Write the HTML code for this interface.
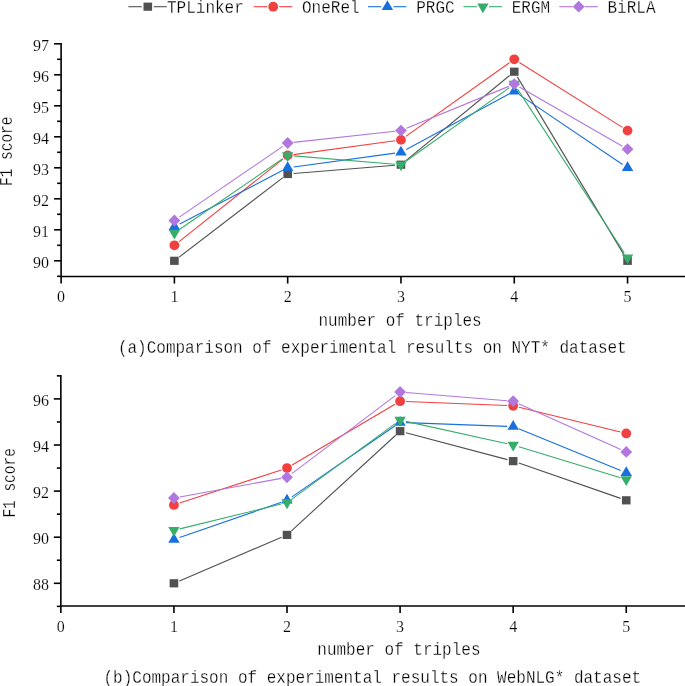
<!DOCTYPE html>
<html lang="en"><head><meta charset="utf-8"><title>F1 score vs number of triples</title>
<style>
html,body{margin:0;padding:0;background:#fff;}
svg{display:block;}
text{fill:#000;}
text.m{stroke:#fff;stroke-width:0.28px;}
text.d{stroke:#fff;stroke-width:0.16px;}
</style></head><body>
<svg width="685" height="686" viewBox="0 0 685 686">
<rect width="685" height="686" fill="#fff"/>
<line x1="128.4" y1="6.7" x2="141.8" y2="6.7" stroke="#515151" stroke-width="1.1"/>
<line x1="153.8" y1="6.7" x2="166.8" y2="6.7" stroke="#515151" stroke-width="1.1"/>
<rect x="143.5" y="2.6" width="8.6" height="8.2" fill="#515151"/>
<text x="167" y="13.2" font-family="'Liberation Mono', monospace" font-size="17.66" textLength="76.8" lengthAdjust="spacingAndGlyphs" class="m">TPLinker</text>
<line x1="253.8" y1="6.7" x2="267.2" y2="6.7" stroke="#F14040" stroke-width="1.1"/>
<line x1="279.2" y1="6.7" x2="292.2" y2="6.7" stroke="#F14040" stroke-width="1.1"/>
<circle cx="273.2" cy="6.7" r="4.9" fill="#F14040"/>
<text x="302" y="13.2" font-family="'Liberation Mono', monospace" font-size="17.66" textLength="57.6" lengthAdjust="spacingAndGlyphs" class="m">OneRel</text>
<line x1="368" y1="6.7" x2="381.4" y2="6.7" stroke="#1A6FDF" stroke-width="1.1"/>
<line x1="393.4" y1="6.7" x2="406.4" y2="6.7" stroke="#1A6FDF" stroke-width="1.1"/>
<polygon points="387.4,0.17 393.1,9.97 381.7,9.97" fill="#1A6FDF"/>
<text x="416.2" y="13.2" font-family="'Liberation Mono', monospace" font-size="17.66" textLength="38.4" lengthAdjust="spacingAndGlyphs" class="m">PRGC</text>
<line x1="463.5" y1="6.7" x2="476.9" y2="6.7" stroke="#37AD6B" stroke-width="1.1"/>
<line x1="488.9" y1="6.7" x2="501.9" y2="6.7" stroke="#37AD6B" stroke-width="1.1"/>
<polygon points="482.9,13.23 488.6,3.43 477.2,3.43" fill="#37AD6B"/>
<text x="511.7" y="13.2" font-family="'Liberation Mono', monospace" font-size="17.66" textLength="38.4" lengthAdjust="spacingAndGlyphs" class="m">ERGM</text>
<line x1="559.3" y1="6.7" x2="572.7" y2="6.7" stroke="#B177DE" stroke-width="1.1"/>
<line x1="584.7" y1="6.7" x2="597.7" y2="6.7" stroke="#B177DE" stroke-width="1.1"/>
<polygon points="578.7,0.8 584.6,6.7 578.7,12.6 572.8,6.7" fill="#B177DE"/>
<text x="607.5" y="13.2" font-family="'Liberation Mono', monospace" font-size="17.66" textLength="48" lengthAdjust="spacingAndGlyphs" class="m">BiRLA</text>
<line x1="179.15" y1="257.15" x2="282.92" y2="177.65" stroke="#515151" stroke-width="1.1"/>
<line x1="293.66" y1="173.51" x2="394.99" y2="165.19" stroke="#515151" stroke-width="1.1"/>
<line x1="405.61" y1="160.89" x2="509.62" y2="75.51" stroke="#515151" stroke-width="1.1"/>
<line x1="517.34" y1="76.85" x2="624.47" y2="255.65" stroke="#515151" stroke-width="1.1"/>
<rect x="170.09" y="256.7" width="8.6" height="8.2" fill="#515151"/>
<rect x="283.38" y="169.9" width="8.6" height="8.2" fill="#515151"/>
<rect x="396.67" y="160.6" width="8.6" height="8.2" fill="#515151"/>
<rect x="509.96" y="67.6" width="8.6" height="8.2" fill="#515151"/>
<rect x="623.25" y="256.7" width="8.6" height="8.2" fill="#515151"/>
<line x1="179.09" y1="241.57" x2="282.98" y2="159.13" stroke="#F14040" stroke-width="1.1"/>
<line x1="293.62" y1="154.59" x2="395.03" y2="140.71" stroke="#F14040" stroke-width="1.1"/>
<line x1="405.86" y1="136.42" x2="509.37" y2="62.78" stroke="#F14040" stroke-width="1.1"/>
<line x1="519.34" y1="62.5" x2="622.47" y2="127.4" stroke="#F14040" stroke-width="1.1"/>
<circle cx="174.39" cy="245.3" r="4.9" fill="#F14040"/>
<circle cx="287.68" cy="155.4" r="4.9" fill="#F14040"/>
<circle cx="400.97" cy="139.9" r="4.9" fill="#F14040"/>
<circle cx="514.26" cy="59.3" r="4.9" fill="#F14040"/>
<circle cx="627.55" cy="130.6" r="4.9" fill="#F14040"/>
<line x1="179.71" y1="223.93" x2="282.36" y2="170.57" stroke="#1A6FDF" stroke-width="1.1"/>
<line x1="293.62" y1="166.99" x2="395.03" y2="153.11" stroke="#1A6FDF" stroke-width="1.1"/>
<line x1="406.25" y1="149.45" x2="508.98" y2="94.08" stroke="#1A6FDF" stroke-width="1.1"/>
<line x1="519.23" y1="94.59" x2="622.58" y2="164.44" stroke="#1A6FDF" stroke-width="1.1"/>
<polygon points="174.39,220.17 180.09,229.97 168.69,229.97" fill="#1A6FDF"/>
<polygon points="287.68,161.27 293.38,171.07 281.98,171.07" fill="#1A6FDF"/>
<polygon points="400.97,145.77 406.67,155.57 395.27,155.57" fill="#1A6FDF"/>
<polygon points="514.26,84.7 519.96,94.5 508.56,94.5" fill="#1A6FDF"/>
<polygon points="627.55,161.27 633.25,171.07 621.85,171.07" fill="#1A6FDF"/>
<line x1="179.34" y1="229.51" x2="282.73" y2="158.79" stroke="#37AD6B" stroke-width="1.1"/>
<line x1="293.66" y1="155.89" x2="394.99" y2="164.21" stroke="#37AD6B" stroke-width="1.1"/>
<line x1="405.86" y1="161.22" x2="509.37" y2="87.58" stroke="#37AD6B" stroke-width="1.1"/>
<line x1="517.54" y1="89.12" x2="624.27" y2="252.68" stroke="#37AD6B" stroke-width="1.1"/>
<polygon points="174.39,239.43 180.09,229.63 168.69,229.63" fill="#37AD6B"/>
<polygon points="287.68,161.93 293.38,152.13 281.98,152.13" fill="#37AD6B"/>
<polygon points="400.97,171.23 406.67,161.43 395.27,161.43" fill="#37AD6B"/>
<polygon points="514.26,90.63 519.96,80.83 508.56,80.83" fill="#37AD6B"/>
<polygon points="627.55,264.23 633.25,254.43 621.85,254.43" fill="#37AD6B"/>
<line x1="179.34" y1="217.11" x2="282.73" y2="146.39" stroke="#B177DE" stroke-width="1.1"/>
<line x1="293.64" y1="142.35" x2="395.01" y2="131.25" stroke="#B177DE" stroke-width="1.1"/>
<line x1="406.52" y1="128.32" x2="508.71" y2="86.38" stroke="#B177DE" stroke-width="1.1"/>
<line x1="519.46" y1="87.09" x2="622.35" y2="146.21" stroke="#B177DE" stroke-width="1.1"/>
<polygon points="174.39,214.6 180.29,220.5 174.39,226.4 168.49,220.5" fill="#B177DE"/>
<polygon points="287.68,137.1 293.58,143 287.68,148.9 281.78,143" fill="#B177DE"/>
<polygon points="400.97,124.7 406.87,130.6 400.97,136.5 395.07,130.6" fill="#B177DE"/>
<polygon points="514.26,78.2 520.16,84.1 514.26,90 508.36,84.1" fill="#B177DE"/>
<polygon points="627.55,143.3 633.45,149.2 627.55,155.1 621.65,149.2" fill="#B177DE"/>
<line x1="61.1" y1="43" x2="61.1" y2="277.35" stroke="#000" stroke-width="1.6"/>
<line x1="61.1" y1="276.55" x2="685" y2="276.55" stroke="#000" stroke-width="1.6"/>
<line x1="54.1" y1="260.8" x2="61.1" y2="260.8" stroke="#000" stroke-width="1.6"/>
<text x="32.9" y="267.7" font-family="'Liberation Serif', serif" font-size="16" class="d">90</text>
<line x1="54.1" y1="229.8" x2="61.1" y2="229.8" stroke="#000" stroke-width="1.6"/>
<text x="32.9" y="236.7" font-family="'Liberation Serif', serif" font-size="16" class="d">91</text>
<line x1="54.1" y1="198.8" x2="61.1" y2="198.8" stroke="#000" stroke-width="1.6"/>
<text x="32.9" y="205.7" font-family="'Liberation Serif', serif" font-size="16" class="d">92</text>
<line x1="54.1" y1="167.8" x2="61.1" y2="167.8" stroke="#000" stroke-width="1.6"/>
<text x="32.9" y="174.7" font-family="'Liberation Serif', serif" font-size="16" class="d">93</text>
<line x1="54.1" y1="136.8" x2="61.1" y2="136.8" stroke="#000" stroke-width="1.6"/>
<text x="32.9" y="143.7" font-family="'Liberation Serif', serif" font-size="16" class="d">94</text>
<line x1="54.1" y1="105.8" x2="61.1" y2="105.8" stroke="#000" stroke-width="1.6"/>
<text x="32.9" y="112.7" font-family="'Liberation Serif', serif" font-size="16" class="d">95</text>
<line x1="54.1" y1="74.8" x2="61.1" y2="74.8" stroke="#000" stroke-width="1.6"/>
<text x="32.9" y="81.7" font-family="'Liberation Serif', serif" font-size="16" class="d">96</text>
<line x1="54.1" y1="43.8" x2="61.1" y2="43.8" stroke="#000" stroke-width="1.6"/>
<text x="32.9" y="50.7" font-family="'Liberation Serif', serif" font-size="16" class="d">97</text>
<line x1="57.1" y1="276.3" x2="61.1" y2="276.3" stroke="#000" stroke-width="1.6"/>
<line x1="57.1" y1="245.3" x2="61.1" y2="245.3" stroke="#000" stroke-width="1.6"/>
<line x1="57.1" y1="214.3" x2="61.1" y2="214.3" stroke="#000" stroke-width="1.6"/>
<line x1="57.1" y1="183.3" x2="61.1" y2="183.3" stroke="#000" stroke-width="1.6"/>
<line x1="57.1" y1="152.3" x2="61.1" y2="152.3" stroke="#000" stroke-width="1.6"/>
<line x1="57.1" y1="121.3" x2="61.1" y2="121.3" stroke="#000" stroke-width="1.6"/>
<line x1="57.1" y1="90.3" x2="61.1" y2="90.3" stroke="#000" stroke-width="1.6"/>
<line x1="57.1" y1="59.3" x2="61.1" y2="59.3" stroke="#000" stroke-width="1.6"/>
<line x1="61.1" y1="276.55" x2="61.1" y2="283.55" stroke="#000" stroke-width="1.6"/>
<text x="57.1" y="302.15" font-family="'Liberation Serif', serif" font-size="16" class="d">0</text>
<line x1="174.39" y1="276.55" x2="174.39" y2="283.55" stroke="#000" stroke-width="1.6"/>
<text x="170.39" y="302.15" font-family="'Liberation Serif', serif" font-size="16" class="d">1</text>
<line x1="287.68" y1="276.55" x2="287.68" y2="283.55" stroke="#000" stroke-width="1.6"/>
<text x="283.68" y="302.15" font-family="'Liberation Serif', serif" font-size="16" class="d">2</text>
<line x1="400.97" y1="276.55" x2="400.97" y2="283.55" stroke="#000" stroke-width="1.6"/>
<text x="396.97" y="302.15" font-family="'Liberation Serif', serif" font-size="16" class="d">3</text>
<line x1="514.26" y1="276.55" x2="514.26" y2="283.55" stroke="#000" stroke-width="1.6"/>
<text x="510.26" y="302.15" font-family="'Liberation Serif', serif" font-size="16" class="d">4</text>
<line x1="627.55" y1="276.55" x2="627.55" y2="283.55" stroke="#000" stroke-width="1.6"/>
<text x="623.55" y="302.15" font-family="'Liberation Serif', serif" font-size="16" class="d">5</text>
<text x="318.5" y="325.65" font-family="'Liberation Mono', monospace" font-size="17.66" textLength="163.2" lengthAdjust="spacingAndGlyphs" class="m">number of triples</text>
<text x="117.9" y="353.4" font-family="'Liberation Mono', monospace" font-size="17.66" textLength="508.8" lengthAdjust="spacingAndGlyphs" class="m">(a)Comparison of experimental results on NYT* dataset</text>
<line x1="179.45" y1="580.94" x2="281.49" y2="537.26" stroke="#515151" stroke-width="1.1"/>
<line x1="291.43" y1="530.84" x2="395.67" y2="435.23" stroke="#515151" stroke-width="1.1"/>
<line x1="405.89" y1="432.71" x2="507.37" y2="459.6" stroke="#515151" stroke-width="1.1"/>
<line x1="518.84" y1="463.1" x2="620.58" y2="498.36" stroke="#515151" stroke-width="1.1"/>
<rect x="169.63" y="579.2" width="8.6" height="8.2" fill="#515151"/>
<rect x="282.71" y="530.8" width="8.6" height="8.2" fill="#515151"/>
<rect x="395.79" y="427.07" width="8.6" height="8.2" fill="#515151"/>
<rect x="508.87" y="457.03" width="8.6" height="8.2" fill="#515151"/>
<rect x="621.95" y="496.22" width="8.6" height="8.2" fill="#515151"/>
<line x1="179.63" y1="503.07" x2="281.31" y2="469.91" stroke="#F14040" stroke-width="1.1"/>
<line x1="292.18" y1="465" x2="394.92" y2="404.26" stroke="#F14040" stroke-width="1.1"/>
<line x1="406.09" y1="401.45" x2="507.17" y2="405.57" stroke="#F14040" stroke-width="1.1"/>
<line x1="519" y1="407.24" x2="620.42" y2="432.05" stroke="#F14040" stroke-width="1.1"/>
<circle cx="173.93" cy="504.93" r="4.9" fill="#F14040"/>
<circle cx="287.01" cy="468.05" r="4.9" fill="#F14040"/>
<circle cx="400.09" cy="401.2" r="4.9" fill="#F14040"/>
<circle cx="513.17" cy="405.81" r="4.9" fill="#F14040"/>
<circle cx="626.25" cy="433.47" r="4.9" fill="#F14040"/>
<line x1="179.6" y1="537.54" x2="281.34" y2="502.28" stroke="#1A6FDF" stroke-width="1.1"/>
<line x1="291.95" y1="496.92" x2="395.15" y2="425.82" stroke="#1A6FDF" stroke-width="1.1"/>
<line x1="406.09" y1="422.63" x2="507.17" y2="426.34" stroke="#1A6FDF" stroke-width="1.1"/>
<line x1="518.73" y1="428.83" x2="620.69" y2="470.39" stroke="#1A6FDF" stroke-width="1.1"/>
<polygon points="173.93,532.97 179.63,542.77 168.23,542.77" fill="#1A6FDF"/>
<polygon points="287.01,493.79 292.71,503.59 281.31,503.59" fill="#1A6FDF"/>
<polygon points="400.09,415.88 405.79,425.68 394.39,425.68" fill="#1A6FDF"/>
<polygon points="513.17,420.03 518.87,429.83 507.47,429.83" fill="#1A6FDF"/>
<polygon points="626.25,466.13 631.95,475.93 620.55,475.93" fill="#1A6FDF"/>
<line x1="179.76" y1="528.86" x2="281.18" y2="504.05" stroke="#37AD6B" stroke-width="1.1"/>
<line x1="291.86" y1="499.09" x2="395.24" y2="423.64" stroke="#37AD6B" stroke-width="1.1"/>
<line x1="405.95" y1="421.4" x2="507.31" y2="443.71" stroke="#37AD6B" stroke-width="1.1"/>
<line x1="518.91" y1="446.75" x2="620.51" y2="477.82" stroke="#37AD6B" stroke-width="1.1"/>
<polygon points="173.93,536.82 179.63,527.02 168.23,527.02" fill="#37AD6B"/>
<polygon points="287.01,509.16 292.71,499.36 281.31,499.36" fill="#37AD6B"/>
<polygon points="400.09,426.64 405.79,416.84 394.39,416.84" fill="#37AD6B"/>
<polygon points="513.17,451.53 518.87,441.73 507.47,441.73" fill="#37AD6B"/>
<polygon points="626.25,486.11 631.95,476.31 620.55,476.31" fill="#37AD6B"/>
<line x1="179.83" y1="496.93" x2="281.11" y2="478.35" stroke="#B177DE" stroke-width="1.1"/>
<line x1="291.8" y1="473.66" x2="395.3" y2="395.6" stroke="#B177DE" stroke-width="1.1"/>
<line x1="406.07" y1="392.47" x2="507.19" y2="400.72" stroke="#B177DE" stroke-width="1.1"/>
<line x1="518.64" y1="403.66" x2="620.78" y2="449.46" stroke="#B177DE" stroke-width="1.1"/>
<polygon points="173.93,492.11 179.83,498.01 173.93,503.91 168.03,498.01" fill="#B177DE"/>
<polygon points="287.01,471.37 292.91,477.27 287.01,483.17 281.11,477.27" fill="#B177DE"/>
<polygon points="400.09,386.09 405.99,391.99 400.09,397.88 394.19,391.99" fill="#B177DE"/>
<polygon points="513.17,395.3 519.07,401.2 513.17,407.1 507.27,401.2" fill="#B177DE"/>
<polygon points="626.25,446.01 632.15,451.91 626.25,457.81 620.35,451.91" fill="#B177DE"/>
<line x1="60.85" y1="375.05" x2="60.85" y2="606.8" stroke="#000" stroke-width="1.6"/>
<line x1="60.85" y1="606" x2="685" y2="606" stroke="#000" stroke-width="1.6"/>
<line x1="53.85" y1="583.3" x2="60.85" y2="583.3" stroke="#000" stroke-width="1.6"/>
<text x="32.9" y="590.2" font-family="'Liberation Serif', serif" font-size="16" class="d">88</text>
<line x1="53.85" y1="537.2" x2="60.85" y2="537.2" stroke="#000" stroke-width="1.6"/>
<text x="32.9" y="544.1" font-family="'Liberation Serif', serif" font-size="16" class="d">90</text>
<line x1="53.85" y1="491.1" x2="60.85" y2="491.1" stroke="#000" stroke-width="1.6"/>
<text x="32.9" y="498" font-family="'Liberation Serif', serif" font-size="16" class="d">92</text>
<line x1="53.85" y1="445" x2="60.85" y2="445" stroke="#000" stroke-width="1.6"/>
<text x="32.9" y="451.9" font-family="'Liberation Serif', serif" font-size="16" class="d">94</text>
<line x1="53.85" y1="398.9" x2="60.85" y2="398.9" stroke="#000" stroke-width="1.6"/>
<text x="32.9" y="405.8" font-family="'Liberation Serif', serif" font-size="16" class="d">96</text>
<line x1="56.85" y1="606.35" x2="60.85" y2="606.35" stroke="#000" stroke-width="1.6"/>
<line x1="56.85" y1="560.25" x2="60.85" y2="560.25" stroke="#000" stroke-width="1.6"/>
<line x1="56.85" y1="514.15" x2="60.85" y2="514.15" stroke="#000" stroke-width="1.6"/>
<line x1="56.85" y1="468.05" x2="60.85" y2="468.05" stroke="#000" stroke-width="1.6"/>
<line x1="56.85" y1="421.95" x2="60.85" y2="421.95" stroke="#000" stroke-width="1.6"/>
<line x1="56.85" y1="375.85" x2="60.85" y2="375.85" stroke="#000" stroke-width="1.6"/>
<line x1="60.85" y1="606" x2="60.85" y2="613" stroke="#000" stroke-width="1.6"/>
<text x="56.85" y="631.6" font-family="'Liberation Serif', serif" font-size="16" class="d">0</text>
<line x1="173.93" y1="606" x2="173.93" y2="613" stroke="#000" stroke-width="1.6"/>
<text x="169.93" y="631.6" font-family="'Liberation Serif', serif" font-size="16" class="d">1</text>
<line x1="287.01" y1="606" x2="287.01" y2="613" stroke="#000" stroke-width="1.6"/>
<text x="283.01" y="631.6" font-family="'Liberation Serif', serif" font-size="16" class="d">2</text>
<line x1="400.09" y1="606" x2="400.09" y2="613" stroke="#000" stroke-width="1.6"/>
<text x="396.09" y="631.6" font-family="'Liberation Serif', serif" font-size="16" class="d">3</text>
<line x1="513.17" y1="606" x2="513.17" y2="613" stroke="#000" stroke-width="1.6"/>
<text x="509.17" y="631.6" font-family="'Liberation Serif', serif" font-size="16" class="d">4</text>
<line x1="626.25" y1="606" x2="626.25" y2="613" stroke="#000" stroke-width="1.6"/>
<text x="622.25" y="631.6" font-family="'Liberation Serif', serif" font-size="16" class="d">5</text>
<text x="317.3" y="655.1" font-family="'Liberation Mono', monospace" font-size="17.66" textLength="163.2" lengthAdjust="spacingAndGlyphs" class="m">number of triples</text>
<text x="103.5" y="682.6" font-family="'Liberation Mono', monospace" font-size="17.66" textLength="537.6" lengthAdjust="spacingAndGlyphs" class="m">(b)Comparison of experimental results on WebNLG* dataset</text>
<text x="-34.72" y="0" font-family="'Liberation Mono', monospace" font-size="17.48" textLength="69.44" lengthAdjust="spacingAndGlyphs" class="m" transform="translate(12.1,151.3) rotate(-90)">F1 score</text>
<text x="-34.72" y="0" font-family="'Liberation Mono', monospace" font-size="17.48" textLength="69.44" lengthAdjust="spacingAndGlyphs" class="m" transform="translate(15.1,482.9) rotate(-90)">F1 score</text>
</svg>
</body></html>
